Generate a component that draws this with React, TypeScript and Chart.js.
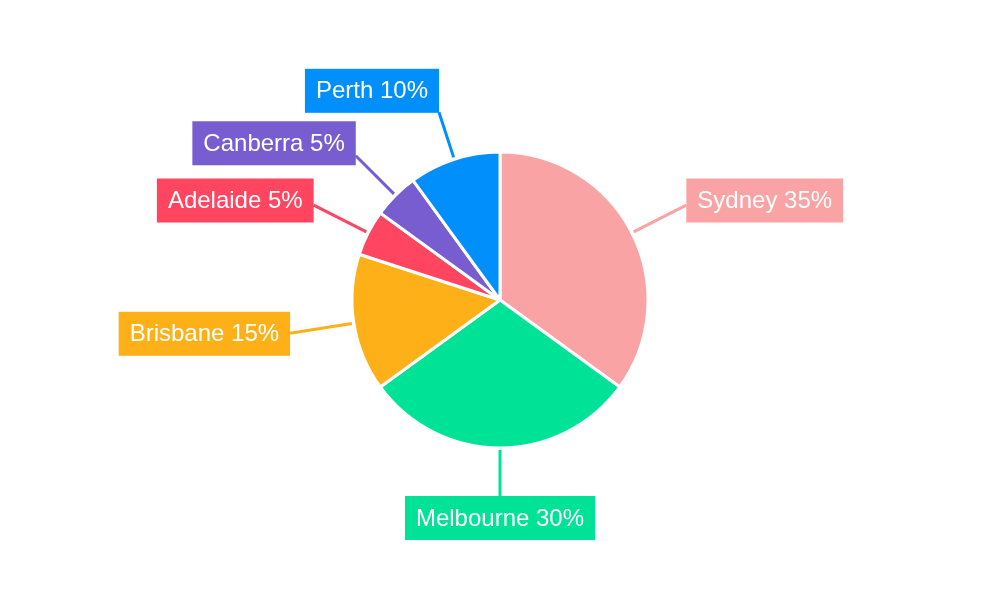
import React, { useRef, useEffect } from 'react';
import Chart from 'chart.js/auto';

const cities: string[] = ['Sydney', 'Melbourne', 'Brisbane', 'Adelaide', 'Canberra', 'Perth'];
const shares: number[] = [35, 30, 15, 5, 5, 10];
const sliceColors: string[] = ['#F9A3A4', '#00E396', '#FEB019', '#FF4560', '#775DD0', '#008FFB'];

const LABEL_FONT = '24px "Liberation Sans", Arial, sans-serif';

// draws the boxed callout labels with leader lines
const calloutPlugin = {
    id: 'callouts',
    afterDatasetsDraw(chart: Chart) {
        const ctx = chart.ctx;
        const meta = chart.getDatasetMeta(0);
        const total = shares.reduce((a, b) => a + b, 0);
        ctx.save();
        ctx.font = LABEL_FONT;
        meta.data.forEach((el: any, i: number) => {
            const { x, y, startAngle, endAngle, outerRadius } = el.getProps(
                ['x', 'y', 'startAngle', 'endAngle', 'outerRadius'],
                true
            );
            const mid = (startAngle + endAngle) / 2;
            const dx = Math.cos(mid);
            const dy = Math.sin(mid);
            // anchor where the radial line meets an ellipse around the pie
            const ax = outerRadius + 65;
            const ay = outerRadius + 48;
            const t = 1 / Math.sqrt((dx / ax) ** 2 + (dy / ay) ** 2);
            const sx = x + dx * (outerRadius + 2);
            const sy = y + dy * (outerRadius + 2);
            const ex = x + dx * t;
            const ey = y + dy * t;

            const text = `${cities[i]} ${Math.round((shares[i] / total) * 100)}%`;
            const w = ctx.measureText(text).width + 22;
            const h = 44;
            let cx: number;
            if (Math.abs(dx) < 0.05) cx = ex;
            else cx = ex + Math.sign(dx) * w / 2;
            const cy = ey + dy * Math.abs(dy) * h / 2 - (dy < -0.5 ? 1.5 : 0);

            ctx.strokeStyle = sliceColors[i];
            ctx.lineWidth = 3;
            ctx.beginPath();
            ctx.moveTo(sx, sy);
            ctx.lineTo(ex, ey);
            ctx.stroke();

            ctx.fillStyle = sliceColors[i];
            ctx.fillRect(cx - w / 2, cy - h / 2, w, h);
            ctx.fillStyle = '#ffffff';
            ctx.textAlign = 'center';
            ctx.textBaseline = 'middle';
            ctx.fillText(text, cx, cy + 1);
        });
        ctx.restore();
    },
};

const CityPie: React.FC = () => {
    const chartRef = useRef<HTMLCanvasElement>(null);
    const chartInstance = useRef<Chart | null>(null);

    useEffect(() => {
        if (chartRef.current) {
            if (chartInstance.current) {
                chartInstance.current.destroy();
            }
            const ctx = chartRef.current.getContext('2d');
            chartInstance.current = new Chart(ctx!, {
                type: 'pie',
                data: {
                    labels: cities,
                    datasets: [
                        {
                            data: shares,
                            backgroundColor: sliceColors,
                            borderColor: '#ffffff',
                            borderWidth: 3,
                        },
                    ],
                },
                options: {
                    responsive: false,
                    animation: false,
                    radius: 148,
                    events: [],
                    plugins: {
                        legend: { display: false },
                        tooltip: { enabled: false },
                    },
                } as any,
                plugins: [calloutPlugin],
            });
        }
        return () => {
            if (chartInstance.current) {
                chartInstance.current.destroy();
                chartInstance.current = null;
            }
        };
    }, []);

    return (
        <div style={{ position: 'fixed', left: 0, top: 0, width: 1000, height: 600, background: '#fff' }}>
            <canvas ref={chartRef} width={1000} height={600} style={{ display: 'block' }} />
        </div>
    );
};

export default function App() {
    return <CityPie />;
}
